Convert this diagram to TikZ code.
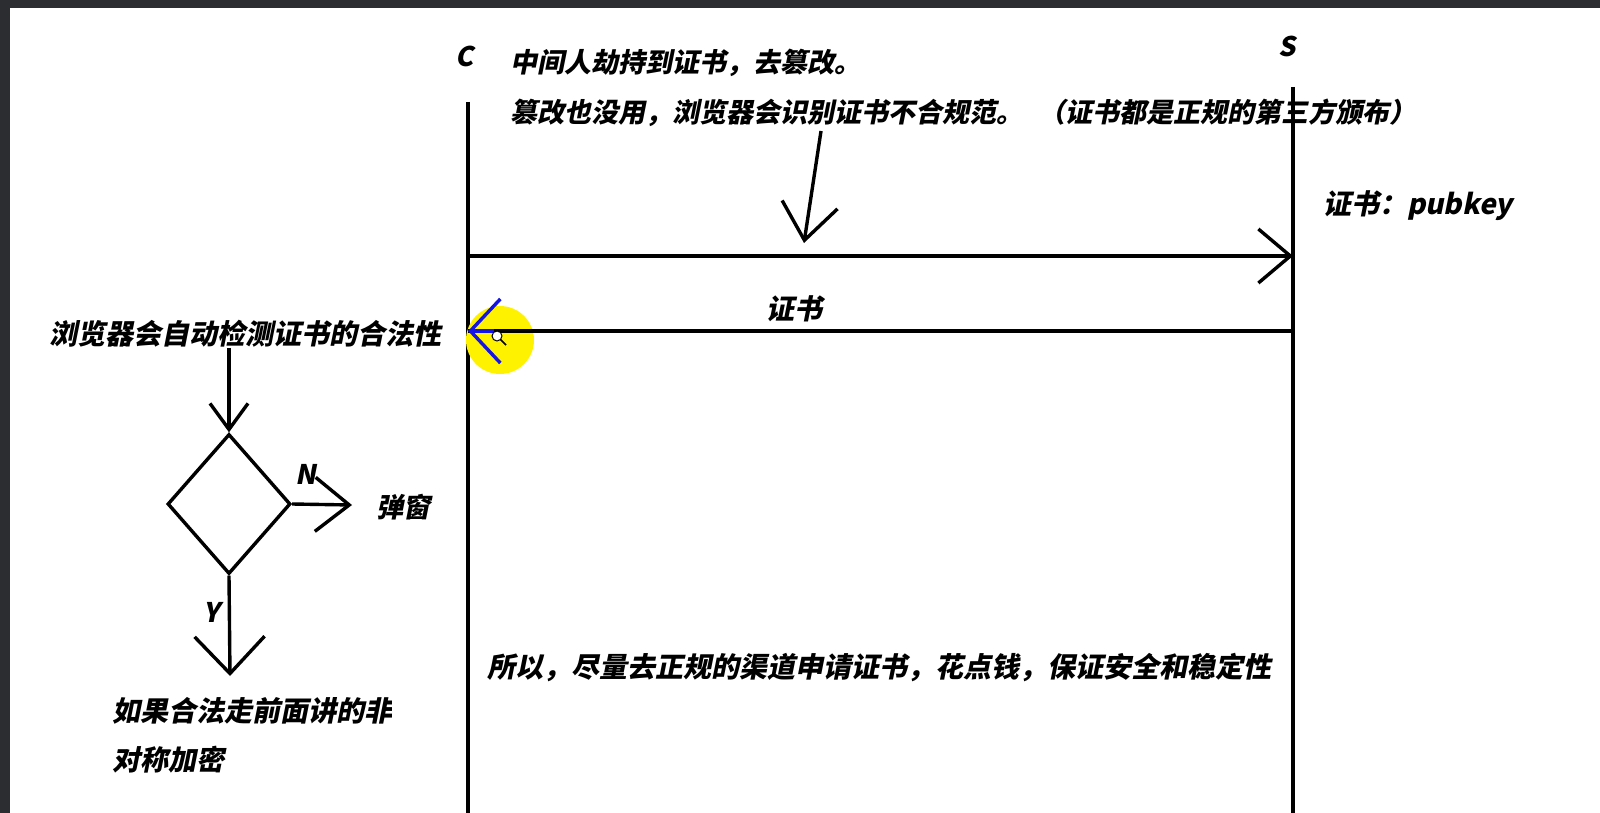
\documentclass[tikz,border=0pt]{standalone}
\usepackage{fontspec}
\newfontfamily\cjk{Noto Sans CJK SC}[FakeSlant=0.2]
\usetikzlibrary{positioning,arrows.meta,shapes.geometric}
\definecolor{frame}{HTML}{2B2D30}
\definecolor{marker}{HTML}{FFF200}
\definecolor{pen}{HTML}{1414E6}

\begin{document}
\begin{tikzpicture}[x=1pt, y=-1pt,
TextStyle/.style={font=\cjk\bfseries\fontsize{27}{27}\selectfont, inner sep=0pt},
BigText/.style={font=\cjk\bfseries\fontsize{28}{28}\selectfont, inner sep=0pt},
LineStyle/.style={line width=3.4pt},
MsgStyle/.style={LineStyle, -{Straight Barb[length=32pt, width=54pt]}},
DecideStyle/.style={draw, diamond, line width=3.4pt, minimum width=123pt,
                minimum height=140pt, inner sep=0pt},]
\useasboundingbox (0,0) rectangle (1600,813);
\fill[frame] (0,0) rectangle (1600,813);
\fill[white] (10,8) rectangle (1600,813);

% lifelines
\node [TextStyle] (clabel) at (464,56) {C};
\node [TextStyle] (slabel) at (1287,46) {S};
\coordinate (cTop) at (468,102);
\coordinate (cBot) at (468,813);
\coordinate (sTop) at (1293,87);
\coordinate (sBot) at (1293,813);
\draw [LineStyle] (cTop) -- (cBot);
\draw [LineStyle] (sTop) -- (sBot);

% notes on top
\node [TextStyle, anchor=west] (note1) at (510,63) {中间人劫持到证书，去篡改。};
\node [TextStyle, anchor=west] (note2) at (510,113)
      {篡改也没用，浏览器会识别证书不合规范。\hspace{15pt}（证书都是正规的第三方颁布）};
\coordinate (hijackTail) at (821,131);
\coordinate (hijackTip) at (804,243);
\draw [MsgStyle, -{Straight Barb[length=36pt, width=56pt]}] (hijackTail) -- (hijackTip);

% request
\coordinate (c1) at (468,256);
\coordinate (s1) at (1293,256);
\draw [MsgStyle] (c1) -- (s1);
\node [BigText, anchor=west] (pubkey) at (1323,206) {证书：pubkey};

% response
\coordinate (c2) at (468,331);
\coordinate (s2) at (1293,331);
\coordinate (c2mark) at (494,331);
\fill [marker] (500,340) circle (34pt);
\draw [LineStyle] (s2) -- (c2);
\draw [LineStyle, pen, -{Straight Barb[length=30pt, width=64pt]}] (c2mark) -- (c2);
\draw [line width=1pt, fill=white] (497,336) circle (5pt);
\draw [line width=1.5pt] (500.5,339.5) -- (506,345);
\node [BigText] (cert) at (794,309) {证书};

% check
\node [BigText] (check) at (245,334) {浏览器会自动检测证书的合法性};
\node [DecideStyle] (decide) at (229,504) {};
\draw [LineStyle, -{Straight Barb[length=26pt, width=38pt]}]
      (check.south -| decide.north) -- (decide.north);
\coordinate (popupTip) at (352,505);
\draw [MsgStyle, -{Straight Barb[length=34pt, width=54pt]}] (decide.east) -- (popupTip);
\node [TextStyle] (nlabel) at (306,474) {N};
\node [TextStyle] (popup) at (403,507) {弹窗};
\coordinate (legalTip) at (230,676);
\draw [MsgStyle, -{Straight Barb[length=37pt, width=70pt]}] (decide.south) -- (legalTip);
\node [TextStyle] (ylabel) at (212,612) {Y};
\begin{scope}
\clip (0,0) rectangle (391,813);
\node [BigText, anchor=west] (legal) at (112,711) {如果合法走前面讲的非};
\end{scope}
\node [BigText, anchor=west] (sym) at (112,760) {对称加密};

% advice
\node [BigText, anchor=west] (advice) at (487,668)
      {所以，尽量去正规的渠道申请证书，花点钱，保证安全和稳定性};
\end{tikzpicture}
\end{document}
